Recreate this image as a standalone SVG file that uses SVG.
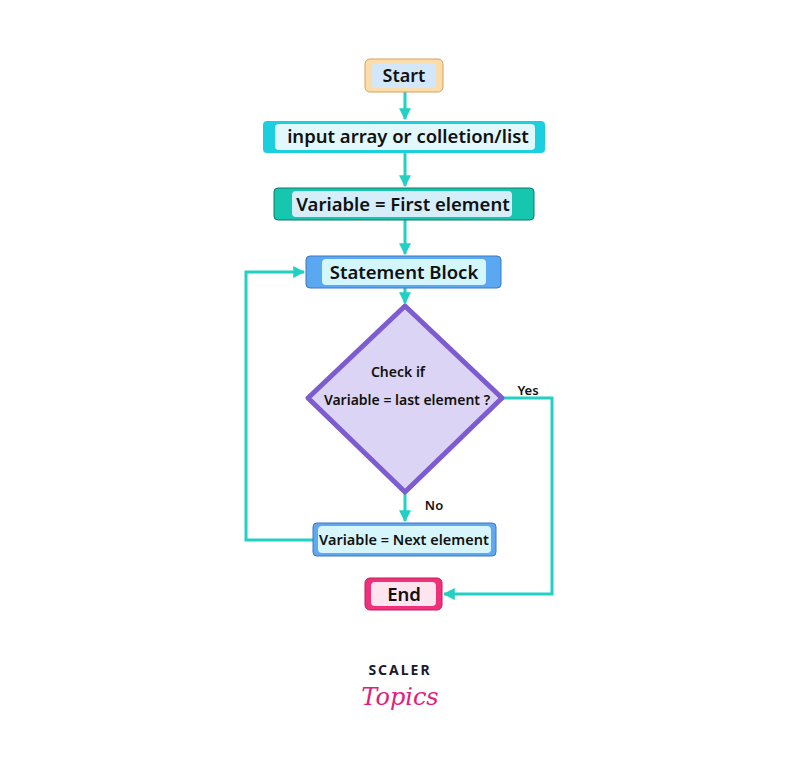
<svg xmlns="http://www.w3.org/2000/svg" width="799" height="763" viewBox="0 0 799 763">
<style>
.t{font-family:"Noto Sans","Open Sans",sans-serif;font-weight:600;fill:#111;text-anchor:middle}
.c{stroke:#22d0c4;stroke-width:3;fill:none}
</style>
<defs><marker id="a" viewBox="0 0 10 10" refX="9" refY="5" markerWidth="4" markerHeight="4" orient="auto-start-reverse"><path d="M0,0L10,5L0,10z" fill="#22d0c4"/></marker></defs>
<rect width="799" height="763" fill="#fff"/>
<g id="connectors">
<path class="c" d="M405,92V119" marker-end="url(#a)"/>
<path class="c" d="M405,153V186" marker-end="url(#a)"/>
<path class="c" d="M405,220V254" marker-end="url(#a)"/>
<path class="c" d="M405,288V303" marker-end="url(#a)"/>
<path class="c" d="M405,493V521" marker-end="url(#a)"/>
<path class="c" d="M313,540H246V272H304" marker-end="url(#a)"/>
<path class="c" d="M503,398H552V594H444" marker-end="url(#a)"/>
</g>
<g id="start"><rect x="365" y="59" width="78" height="33" rx="5" fill="#fbdcab" stroke="#d9a05a"/><rect x="372" y="63" width="64" height="25" rx="4" fill="#d2e8fa"/><text class="t" x="404" y="82" font-size="18">Start</text></g>
<g id="input"><rect x="263" y="121" width="282" height="32" rx="4" fill="#1ccfe0"/><rect x="275" y="124" width="260" height="26" rx="4" fill="#e2f8fc"/><text class="t" x="408" y="143" font-size="18.5">input array or colletion/list</text></g>
<g id="first"><rect x="274" y="188" width="260" height="32" rx="4" fill="#16c6ae" stroke="#0a7a6a"/><rect x="292" y="191" width="220" height="26" rx="4" fill="#d6eefa"/><text class="t" x="403" y="211" font-size="18.5">Variable = First element</text></g>
<g id="stmt"><rect x="306" y="256" width="195" height="32" rx="4" fill="#5aa8f2" stroke="#3a78c0"/><rect x="322" y="259" width="164" height="26" rx="4" fill="#d2f6fc"/><text class="t" x="404" y="279" font-size="18.5">Statement Block</text></g>
<g id="check"><path d="M405,306L502,398L405,492L308,398Z" fill="#dcd4f4" stroke="#7c5cd0" stroke-width="5" stroke-linejoin="round"/><text class="t" x="398" y="377" font-size="14">Check if</text><text class="t" x="407" y="405" font-size="14">Variable = last element ?</text></g>
<text class="t" x="528" y="395" font-size="13">Yes</text>
<text class="t" x="434" y="510" font-size="13">No</text>
<g id="next"><rect x="313" y="523" width="183" height="33" rx="4" fill="#60a8f2" stroke="#3a78c0"/><rect x="318" y="526" width="173" height="27" rx="4" fill="#d6f6fc"/><text class="t" x="404" y="545" font-size="14.5">Variable = Next element</text></g>
<g id="end"><rect x="365" y="578" width="77" height="32" rx="5" fill="#f0307a" stroke="#c0205a"/><rect x="371" y="582" width="65" height="24" rx="4" fill="#fde4ee"/><text class="t" x="404" y="601" font-size="18.5">End</text></g>
<text x="400" y="675" font-family="Noto Sans,sans-serif" font-weight="700" font-size="14" letter-spacing="2" fill="#1a1a2a" text-anchor="middle">SCALER</text>
<text x="400" y="705" font-family="DejaVu Serif,serif" font-style="italic" font-size="24" fill="#e0207a" text-anchor="middle">Topics</text>
</svg>
